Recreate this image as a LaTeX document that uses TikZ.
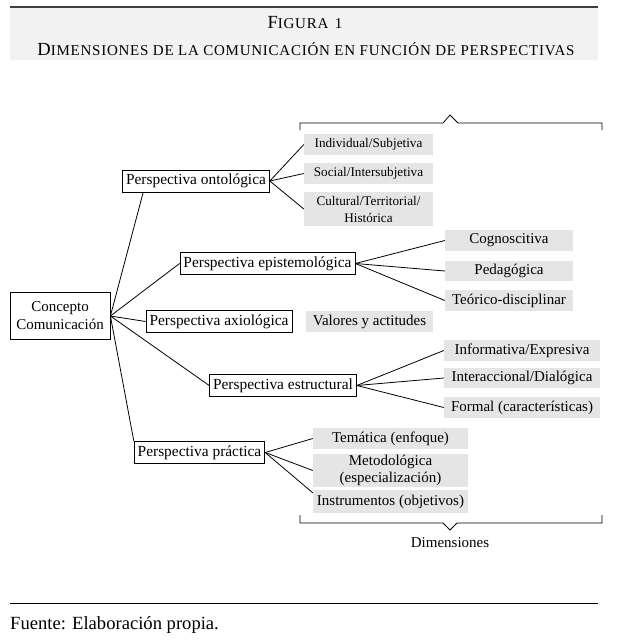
\documentclass[tikz,border=0pt]{standalone}
\usepackage{fontspec}
\setmainfont{Liberation Serif}
\usepackage{xcolor}

\begin{document}
\begin{tikzpicture}[x=1pt,y=-1pt,
  persp/.style={draw, line width=0.8pt, inner xsep=3.5pt, minimum height=22pt, font=\fontsize{15.4}{18}\selectfont},
  dimbox/.style={fill=black!10, inner sep=1pt, align=center, font=\fontsize{15}{17.5}\selectfont},
  dimsmall/.style={dimbox, font=\fontsize{13.2}{17}\selectfont},
  sctitle/.style={anchor=base, font=\addfontfeature{LetterSpace=5}\fontsize{15}{18}\selectfont},
  link/.style={line width=0.8pt}]

\useasboundingbox (0,0) rectangle (616,642);

\fill[black!5] (10,7) rectangle (598,60);
\draw[line width=1.2pt, black!75] (10,7) -- (598,7);
\node[sctitle] (fig) at (305,29) {{\fontsize{18.5}{20}\selectfont F}IGURA\hspace{2pt} 1};
\node[sctitle] (tit) at (306,56) {{\fontsize{18.5}{20}\selectfont D}IMENSIONES DE LA COMUNICACIÓN EN FUNCIÓN DE PERSPECTIVAS};

\node[persp, minimum width=100pt, minimum height=47pt, align=center, font=\fontsize{15}{18}\selectfont] (cc) at (60,316) {Concepto\\Comunicación};

\node[persp] (onto) at (196,181) {Perspectiva ontológica};
\node[persp] (epis) at (267.5,263.5) {Perspectiva epistemológica};
\node[persp] (axio) at (219,321.5) {Perspectiva axiológica};
\node[persp] (estr) at (283,385.5) {Perspectiva estructural};
\node[persp] (prac) at (199.5,452.5) {Perspectiva práctica};

\node[dimsmall, minimum width=129pt, minimum height=21pt] (ind) at (368.5,144.5) {Individual/Subjetiva};
\node[dimsmall, minimum width=129pt, minimum height=21pt] (soc) at (368.5,173.5) {Social/Intersubjetiva};
\node[dimsmall, minimum width=129pt, minimum height=34pt] (cul) at (368.5,209) {Cultural/Territorial/\\Histórica};

\node[dimbox, minimum width=128pt, minimum height=21pt] (cog) at (509,240.5) {Cognoscitiva};
\node[dimbox, minimum width=128pt, minimum height=20pt] (ped) at (509,271) {Pedagógica};
\node[dimbox, minimum width=128pt, minimum height=21pt] (teo) at (509,300.5) {Teórico-disciplinar};

\node[dimbox, minimum width=127pt, minimum height=21pt] (val) at (369.5,321.5) {Valores y actitudes};

\node[dimbox, minimum width=156pt, minimum height=21pt] (inf) at (522,350.5) {Informativa/Expresiva};
\node[dimbox, minimum width=156pt, minimum height=20pt] (int) at (522,378) {Interaccional/Dialógica};
\node[dimbox, minimum width=156pt, minimum height=21pt] (for) at (522,407.5) {Formal (características)};

\node[dimbox, minimum width=155pt, minimum height=21pt] (tem) at (390.5,438.5) {Temática (enfoque)};
\node[dimbox, minimum width=155pt, minimum height=33pt] (met) at (390.5,470.5) {Metodológica\\(especialización)};
\node[dimbox, minimum width=155pt, minimum height=23pt] (ins) at (390.5,501.5) {Instrumentos (objetivos)};

\draw[link] (cc.east) -- ([xshift=21pt]onto.south west);
\draw[link] (cc.east) -- (epis.west);
\draw[link] (cc.east) -- (axio.west);
\draw[link] (cc.east) -- (estr.west);
\draw[link] (cc.east) -- (prac.north west);

\draw[link] (onto.east) -- (ind.west);
\draw[link] (onto.east) -- (soc.west);
\draw[link] (onto.east) -- (cul.west);

\draw[link] (epis.east) -- (cog.west);
\draw[link] (epis.east) -- (ped.west);
\draw[link] (epis.east) -- (teo.west);

\draw[link] (estr.east) -- (inf.west);
\draw[link] (estr.east) -- (int.west);
\draw[link] (estr.east) -- (for.west);

\draw[link] (prac.east) -- (tem.west);
\draw[link] (prac.east) -- (met.west);
\draw[link] (prac.east) -- ([yshift=-3pt]ins.north west);

\draw[link] (300,130) -- (300,123) -- (443,123) -- (450,115) -- (458,123) -- (602,123) -- (602,130);
\draw[link] (300,515) -- (300,523) -- (443,523) -- (450,530) -- (457,523) -- (602,523) -- (602,515);
\node[font=\fontsize{15}{18}\selectfont] (dim) at (450,543) {Dimensiones};

\draw[link] (10,603) -- (598,603);
\node[anchor=base west, inner sep=0pt, font=\fontsize{18.6}{22}\selectfont] (fte) at (10,629) {Fuente: Elaboración propia.};

\end{tikzpicture}
\end{document}
